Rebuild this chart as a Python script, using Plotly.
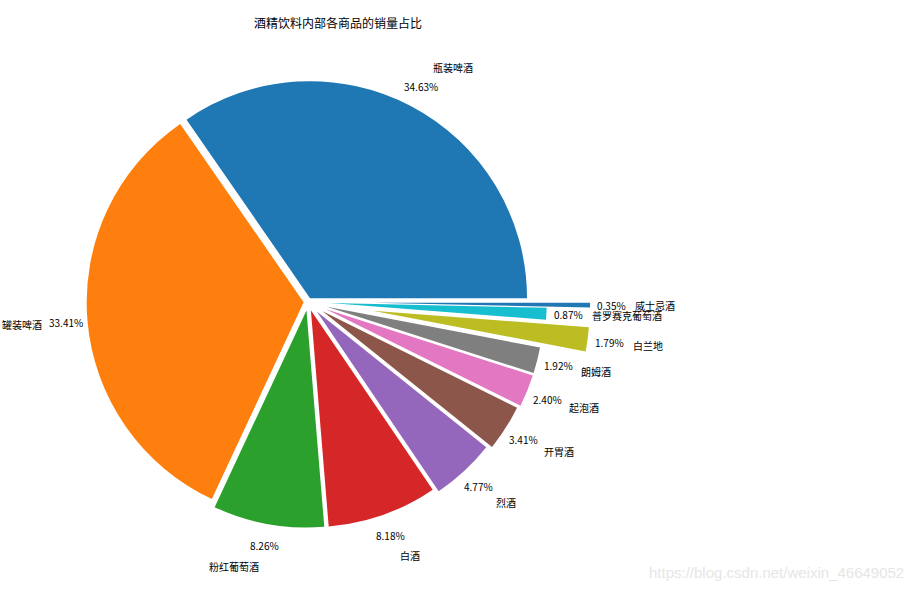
import numpy as np
import plotly.graph_objects as go

# 酒精饮料各商品销量占比 (%)
labels = ['瓶装啤酒', '罐装啤酒', '粉红葡萄酒', '白酒', '烈酒', '开胃酒',
          '起泡酒', '朗姆酒', '白兰地', '普罗赛克葡萄酒', '威士忌酒']
shares = [34.63, 33.41, 8.26, 8.18, 4.77, 3.41, 2.40, 1.92, 1.79, 0.87, 0.35]
explode = [0.02, 0.02, 0.04, 0.04, 0.06, 0.08, 0.09, 0.09, 0.3, 0.1, 0.3]

colors = ['#1f77b4', '#ff7f0e', '#2ca02c', '#d62728', '#9467bd', '#8c564b',
          '#e377c2', '#7f7f7f', '#bcbd22', '#17becf', '#1f77b4']

W, H = 916, 589
CX, CY, R = 308, 302, 217          # pie centre / radius in pixels
FONT = 'Noto Sans CJK SC, SimHei, sans-serif'

frac = np.array(shares) / np.sum(shares)

# plotly shrinks the radius by (1 + max pull) inside the domain
half = R * (1 + max(explode))
dom_x = [(CX - half) / W, (CX + half) / W]
dom_y = [1 - (CY + half) / H, 1 - (CY - half) / H]

# counterclockwise pies in plotly end the first slice at `rotation`,
# so shift by the first slice to make it start at 3 o'clock
rot = 90 - 360 * frac[0]

fig = go.Figure(go.Pie(
    labels=labels,
    values=shares,
    pull=explode,
    sort=False,
    direction='counterclockwise',
    rotation=rot,
    marker=dict(colors=colors, line=dict(width=0)),
    textinfo='none',
    domain=dict(x=dom_x, y=dom_y),
    showlegend=False,
))

# labels at 1.2 r, percentages at 1.1 r (like matplotlib labeldistance/pctdistance)
theta = 2 * np.pi * (np.cumsum(frac) - frac / 2)

annotations = []
for lab, s, e, t in zip(labels, shares, explode, theta):
    ex = CX + e * R * np.cos(t)
    ey = CY - e * R * np.sin(t)
    lx = ex + 1.2 * R * np.cos(t)
    ly = ey - 1.2 * R * np.sin(t)
    px = ex + 1.1 * R * np.cos(t)
    py = ey - 1.1 * R * np.sin(t)
    annotations.append(dict(
        x=lx / W, y=1 - ly / H, xref='paper', yref='paper',
        text=lab, showarrow=False,
        xanchor='left' if lx > CX else 'right', yanchor='middle',
        font=dict(size=10, color='black', family=FONT)))
    annotations.append(dict(
        x=px / W, y=1 - py / H, xref='paper', yref='paper',
        text=f'{s:.2f}%', showarrow=False,
        xanchor='center', yanchor='middle',
        font=dict(size=10, color='black', family=FONT)))

# title
annotations.append(dict(
    x=337.5 / W, y=1 - 22 / H, xref='paper', yref='paper',
    text='酒精饮料内部各商品的销量占比', showarrow=False,
    xanchor='center', yanchor='middle',
    font=dict(size=12, color='black', family=FONT)))

# watermark
annotations.append(dict(
    x=906 / W, y=1 - 572 / H, xref='paper', yref='paper',
    text='https://blog.csdn.net/weixin_46649052', showarrow=False,
    xanchor='right', yanchor='middle',
    font=dict(size=15, color='#e6e6e6', family='Liberation Sans, Arial')))

fig.update_layout(
    width=W, height=H,
    margin=dict(l=0, r=0, t=0, b=0),
    paper_bgcolor='white',
    plot_bgcolor='white',
    annotations=annotations,
)

fig.write_html("out.html", config={'displayModeBar': False},
               post_script="document.body.style.margin='0';")
